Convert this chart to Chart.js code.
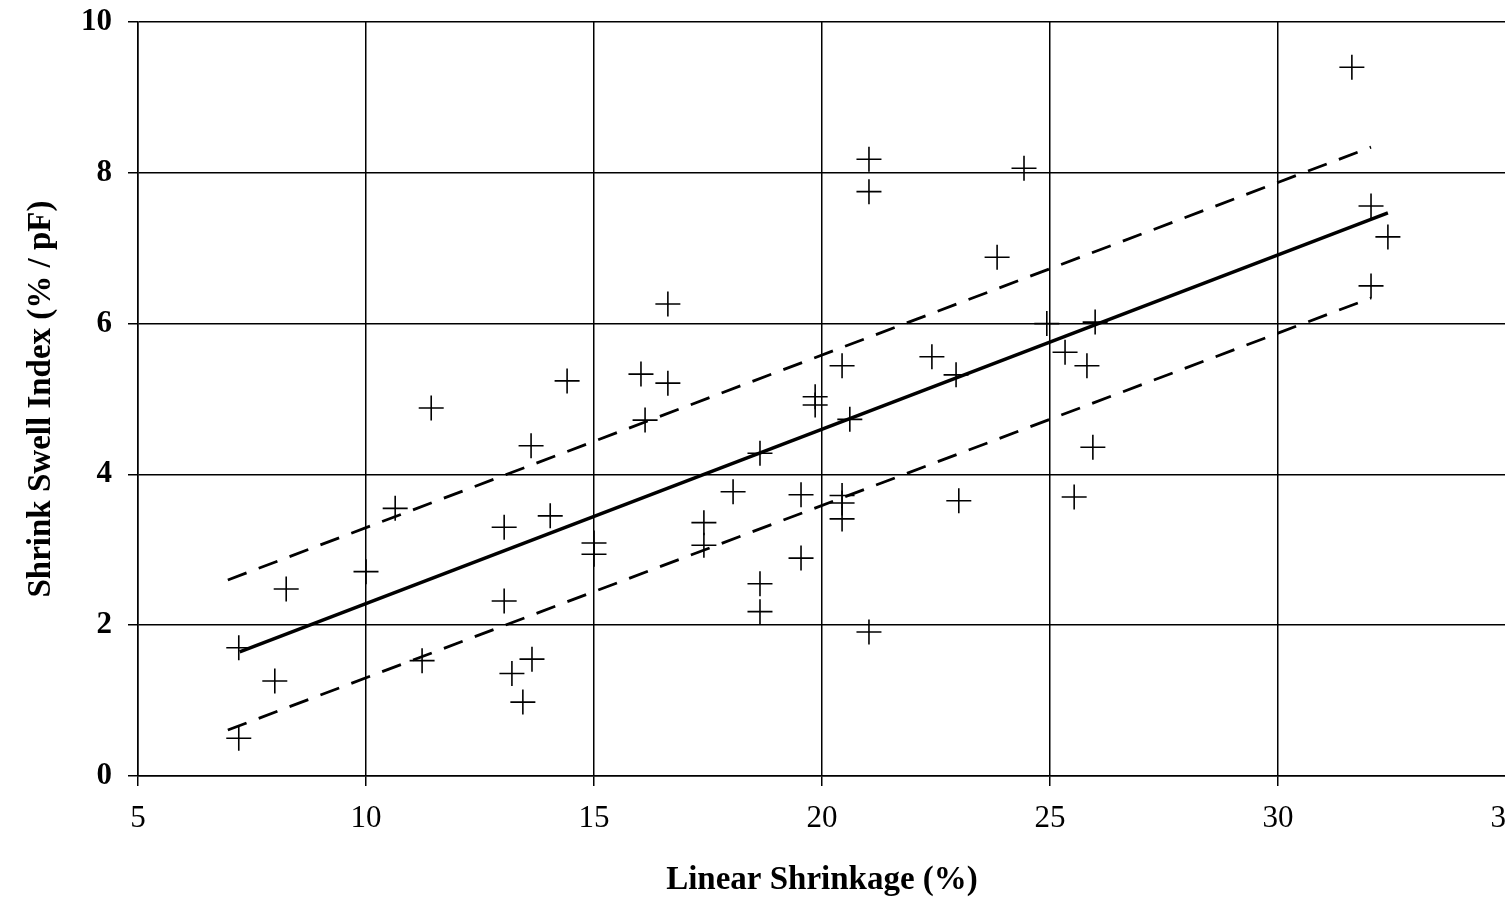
<!DOCTYPE html>
<html>
<head>
<meta charset="utf-8">
<script src="https://cdn.jsdelivr.net/npm/chart.js@4/dist/chart.umd.min.js"></script>
<style>
  html, body { margin: 0; padding: 0; background: #fff; overflow: hidden; }
  #wrap { width: 1540px; height: 911px; }
</style>
</head>
<body>
<div id="wrap"><canvas id="c" width="1540" height="911"></canvas></div>
<script>
// Observed data (Linear Shrinkage %, Shrink Swell Index)
const shrinkX = [7.21, 7.21, 8.0, 8.25, 10.0, 10.64, 11.23, 11.43, 13.03, 13.03,
  13.2, 13.64, 13.44, 14.04, 13.62, 14.41, 15.0, 15.0, 16.62, 16.03,
  16.62, 16.12, 18.64, 18.05, 17.41, 17.41, 19.54, 19.54, 18.64, 18.64,
  19.85, 19.85, 20.44, 20.61, 20.44, 20.44, 20.44, 22.41, 22.94, 23.0,
  24.93, 25.33, 25.81, 25.53, 25.94, 25.99, 21.03, 21.03, 24.43, 23.84,
  21.03, 31.62, 32.04, 32.41, 32.04];
const swellY = [1.70, 0.50, 1.26, 2.48, 2.71, 3.55, 1.53, 4.88, 3.30, 2.32,
  1.36, 1.55, 0.98, 3.45, 4.38, 5.24, 3.09, 2.94, 6.26, 5.33,
  5.21, 4.72, 4.28, 3.77, 3.36, 3.06, 3.73, 2.89, 2.55, 2.18,
  5.03, 4.92, 5.44, 4.73, 3.72, 3.62, 3.41, 5.56, 5.32, 3.65,
  6.00, 5.62, 5.44, 3.70, 4.36, 6.02, 8.18, 7.75, 8.06, 6.88,
  1.91, 9.40, 7.56, 7.15, 6.50];

// Regression line and bounds (end points)
const fitX = [7.23, 32.41];
const fitY = [1.645, 7.47];
const upperX = [6.97, 32.04];
const upperY = [2.60, 8.34];
const lowerX = [6.97, 32.04];
const lowerY = [0.61, 6.34];

// Axis ticks
const xTicks = [5, 10, 15, 20, 25, 30, 35];
const yTicks = [0, 2, 4, 6, 8, 10];

const pts = (xs, ys) => xs.map((x, i) => ({ x: x, y: ys[i] }));

const FONT = "'Liberation Serif', 'Times New Roman', serif";

new Chart(document.getElementById('c'), {
  type: 'scatter',
  data: {
    datasets: [
      {
        data: pts(shrinkX, swellY),
        pointStyle: 'cross',
        pointRadius: 12.5,
        pointHoverRadius: 12.5,
        borderColor: '#000',
        backgroundColor: '#000',
        borderWidth: 1.6,
        showLine: false
      },
      {
        data: pts(fitX, fitY),
        showLine: true,
        borderColor: '#000',
        borderWidth: 3.5,
        pointRadius: 0
      },
      {
        data: pts(upperX, upperY),
        showLine: true,
        borderColor: '#000',
        borderWidth: 2.8,
        borderDash: [20, 13],
        pointRadius: 0
      },
      {
        data: pts(lowerX, lowerY),
        showLine: true,
        borderColor: '#000',
        borderWidth: 2.8,
        borderDash: [20, 13],
        pointRadius: 0
      }
    ]
  },
  options: {
    responsive: false,
    animation: false,
    devicePixelRatio: 1,
    layout: { padding: { top: 22, right: 34, left: 0, bottom: 0 } },
    plugins: { legend: { display: false }, tooltip: { enabled: false } },
    scales: {
      x: {
        type: 'linear',
        min: 5, max: 35,
        afterBuildTicks: (s) => { s.ticks = xTicks.map(v => ({ value: v })); },
        afterFit: (s) => { s.height = 135; s.paddingLeft = 0; s.paddingRight = 0; },
        grid: { color: '#000', lineWidth: 1.5, tickLength: 10, drawTicks: true },
        border: { color: '#000', width: 1.5 },
        ticks: {
          color: '#000',
          padding: 14,
          maxRotation: 0,
          autoSkip: false,
          font: { family: FONT, size: 31 }
        },
        title: {
          display: true,
          text: 'Linear Shrinkage (%)',
          color: '#000',
          font: { family: FONT, size: 33, weight: 'bold' },
          padding: { top: 0, bottom: 11 }
        }
      },
      y: {
        type: 'linear',
        min: 0, max: 10,
        afterBuildTicks: (s) => { s.ticks = yTicks.map(v => ({ value: v })); },
        afterFit: (s) => { s.width = 138; s.paddingTop = 0; s.paddingBottom = 0; },
        grid: { color: '#000', lineWidth: 1.5, tickLength: 10, drawTicks: true },
        border: { color: '#000', width: 1.5 },
        ticks: {
          color: '#000',
          padding: 16,
          autoSkip: false,
          font: { family: FONT, size: 31, weight: 'bold' }
        },
        title: {
          display: true,
          text: 'Shrink Swell Index (% / pF)',
          color: '#000',
          font: { family: FONT, size: 33, weight: 'bold' },
          padding: { top: 22, bottom: 0 }
        }
      }
    }
  }
});
</script>
</body>
</html>
